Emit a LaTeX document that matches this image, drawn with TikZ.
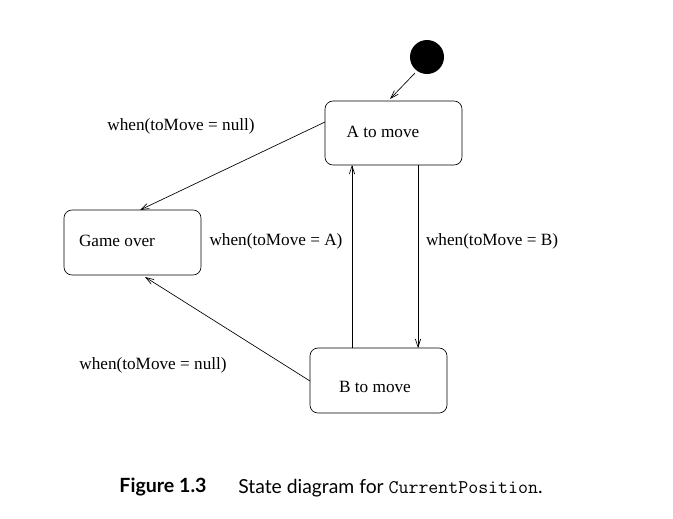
\documentclass[tikz,border=0pt]{standalone}
\usepackage{fontspec}
\setmainfont{Liberation Serif}
\newfontfamily\capfont{Lato}
\usetikzlibrary{arrows.meta}
\begin{document}
\begin{tikzpicture}[x=0.75pt,y=-0.75pt,
  st/.style={draw,rounded corners=6pt,line width=0.5pt},
  lbl/.style={font=\fontsize{12.9}{14}\selectfont},
  ar/.style={line width=0.5pt,-{Straight Barb[length=6pt,width=4pt]}}]
\useasboundingbox (0,0) rectangle (673,518);
\node[circle,fill=black,minimum size=34*0.75pt,inner sep=0] (init) at (427,57) {};
\draw[st] (325,101) rectangle (462,165);
\node[lbl] (At) at (383,132) {A to move};
\draw[st] (64,210) rectangle (201,275);
\node[lbl] (Gt) at (117,241) {Game over};
\draw[st] (310,348) rectangle (447,413);
\node[lbl] (Bt) at (375,387) {B to move};
\coordinate (i1) at (415,73); \coordinate (a0) at (390,99);
\draw[ar] (i1) -- (a0);
\coordinate (a1) at (325,122); \coordinate (g1) at (140,210);
\draw[ar] (a1) -- (g1);
\coordinate (b1) at (310,381); \coordinate (g2) at (145,277);
\draw[ar] (b1) -- (g2);
\coordinate (b2) at (352,348); \coordinate (a2) at (352,165);
\draw[ar] (b2) -- (a2);
\coordinate (a3) at (418,165); \coordinate (b3) at (418,348);
\draw[ar] (a3) -- (b3);
\node[lbl] (l1) at (181,126) {when(toMove = null)};
\node[lbl] (l2) at (276,241) {when(toMove = A)};
\node[lbl] (l3) at (492,241) {when(toMove = B)};
\node[lbl] (l4) at (153,365) {when(toMove = null)};
\node[font=\capfont\bfseries\fontsize{14.7}{16}\selectfont] (f) at (163,487) {Figure 1.3};
\node[font=\capfont\fontsize{14.5}{16}\selectfont,anchor=west,inner sep=0] (c) at (238,488) {State diagram for {\ttfamily CurrentPosition}.};
\end{tikzpicture}
\end{document}
